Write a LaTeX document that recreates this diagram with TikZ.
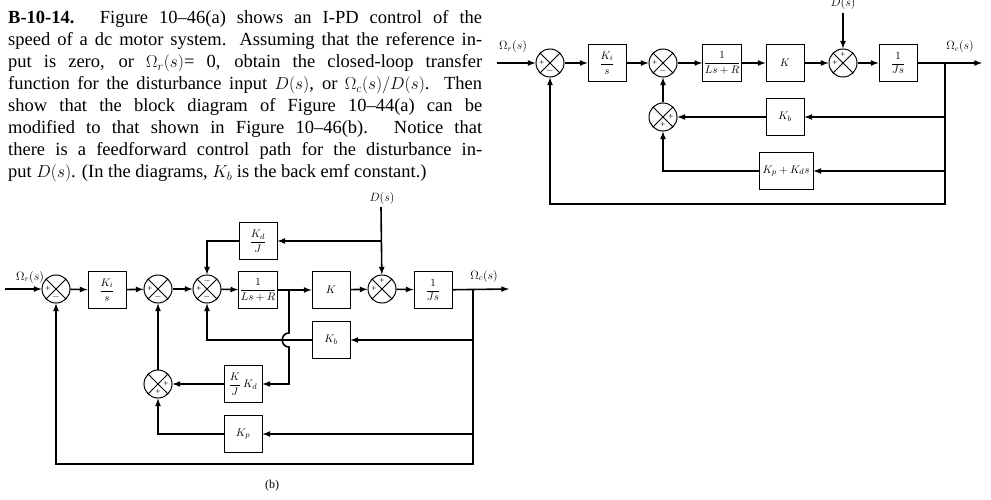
\documentclass[tikz,border=0pt]{standalone}
\usepackage{amsmath}
\usepackage{fontspec}
\setmainfont{Liberation Serif}
\usetikzlibrary{arrows,positioning,calc}

\tikzset{
    blk/.style={rectangle, draw, line width=1pt, minimum width=38pt, minimum height=37pt, inner sep=1pt, font=\fontsize{11}{12}\selectfont},
    summ/.style={circle, draw, line width=1pt, minimum size=28pt, inner sep=0pt,
        path picture={\draw[line width=0.8pt] (path picture bounding box.north west) -- (path picture bounding box.south east)
                      (path picture bounding box.north east) -- (path picture bounding box.south west);}},
    sgn/.style={font=\fontsize{9}{9}\selectfont, inner sep=0pt},
    sig/.style={line width=1.6pt, ->, >=latex},
    lbl/.style={font=\fontsize{12}{13}\selectfont},
    txt/.style={anchor=base west, inner sep=0pt, font=\fontsize{18.5}{22}\selectfont}
}
% sign marks around a summing point
\newcommand{\signs}[5]{%
  \node[sgn] at ($(#1)+(-8,0)$) {#2};
  \node[sgn] at ($(#1)+(0,-8)$) {#3};
  \node[sgn] at ($(#1)+(0,8)$) {#4};
  \node[sgn] at ($(#1)+(8,0)$) {#5};}

\begin{document}
\begin{tikzpicture}[x=1pt, y=-1pt]
\useasboundingbox (0,0) rectangle (991,500);

% problem text
\node[txt] (l1) at (8,24) {\hbox to 474pt{\textbf{B-10-14.} Figure 10--46(a) shows an I-PD control of the}};
\node[txt] (l2) at (8,46) {\hbox to 474pt{speed of a dc motor system. Assuming that the reference in-}};
\node[txt] (l3) at (8,68) {\hbox to 474pt{put is zero, or $\Omega_r(s)$= 0, obtain the closed-loop transfer}};
\node[txt] (l4) at (8,90) {\hbox to 474pt{function for the disturbance input $D(s)$, or $\Omega_c(s)/D(s)$. Then}};
\node[txt] (l5) at (8,112) {\hbox to 474pt{show that the block diagram of Figure 10--44(a) can be}};
\node[txt] (l6) at (8,134) {\hbox to 474pt{modified to that shown in Figure 10--46(b). Notice that}};
\node[txt] (l7) at (8,156) {\hbox to 474pt{there is a feedforward control path for the disturbance in-}};
\node[txt] (l8) at (8,178) {put $D(s)$. (In the diagrams, $K_b$ is the back emf constant.)};

%%% diagram (a)
\coordinate (a-in) at (497,63);
\node[summ] (a-s1) at (550,63) {};
\node[blk] (a-ki) at (607,63) {$\dfrac{K_i}{s}$};
\node[summ] (a-s2) at (663,63) {};
\node[blk] (a-ls) at (722,63) {$\dfrac{1}{Ls+R}$};
\node[blk] (a-k) at (785,63) {$K$};
\node[summ] (a-s3) at (843,63) {};
\node[blk] (a-js) at (898,63) {$\dfrac{1}{Js}$};
\coordinate (a-br) at (945,63);
\coordinate (a-out) at (982,63);
\node[summ] (a-s4) at (663,117) {};
\node[blk] (a-kb) at (785,117) {$K_b$};
\node[blk, minimum width=54pt] (a-kp) at (786,171) {$K_p+K_ds$};
\coordinate (a-d) at (843,13);
\node[lbl] (a-dl) at (843,4) {$D(s)$};
\node[lbl] (a-rl) at (513,47) {$\Omega_r(s)$};
\node[lbl] (a-cl) at (960,47) {$\Omega_c(s)$};

\draw[sig] (a-in) -- (a-s1);
\draw[sig] (a-s1) -- (a-ki);
\draw[sig] (a-ki) -- (a-s2);
\draw[sig] (a-s2) -- (a-ls);
\draw[sig] (a-ls) -- (a-k);
\draw[sig] (a-k) -- (a-s3);
\draw[sig] (a-s3) -- (a-js);
\draw[sig] (a-js) -- (a-out);
\draw[sig] (a-d) -- (a-s3);
\draw[sig] (a-br) |- (a-kb);
\draw[sig] (a-kb) -- (a-s4);
\draw[sig] (a-br) |- (a-kp);
\draw[sig] (a-kp) -| (a-s4);
\draw[sig] (a-s4) -- (a-s2);
\draw[sig] (a-br) |- (550,204) -- (a-s1);
\signs{a-s1}{+}{}{$-$}{}
\signs{a-s2}{+}{}{$-$}{}
\signs{a-s3}{+}{+}{}{}
\signs{a-s4}{}{}{+}{+}

%%% diagram (b)
\coordinate (b-in) at (5,289);
\node[summ] (b-s1) at (56,289) {};
\node[blk] (b-ki) at (107,290) {$\dfrac{K_i}{s}$};
\node[summ] (b-s2) at (158,289) {};
\node[summ] (b-s3) at (207,289) {};
\node[blk] (b-ls) at (258,290) {$\dfrac{1}{Ls+R}$};
\node[blk] (b-k) at (331,290) {$K$};
\node[summ] (b-s4) at (382,289) {};
\node[blk] (b-js) at (433,290) {$\dfrac{1}{Js}$};
\coordinate (b-br) at (473,289);
\coordinate (b-out) at (509,289);
\node[blk] (b-kdj) at (258,241) {$\dfrac{K_d}{J}$};
\node[blk] (b-kb) at (331,340) {$K_b$};
\node[blk] (b-kjkd) at (243,384) {$\dfrac{K}{J}\,K_d$};
\node[summ] (b-s5) at (158,384) {};
\node[blk] (b-kp) at (243,434) {$K_p$};
\coordinate (b-d) at (381,207);
\coordinate (b-db) at (381,241);
\coordinate (b-lb) at (289,290);
\node[lbl] (b-dl) at (382,198) {$D(s)$};
\node[lbl] (b-rl) at (30,277) {$\Omega_r(s)$};
\node[lbl] (b-cl) at (484,276) {$\Omega_c(s)$};
\node[lbl] (b-cap) at (272,486) {(b)};

\draw[sig] (b-in) -- (b-s1);
\draw[sig] (b-s1) -- (b-ki);
\draw[sig] (b-ki) -- (b-s2);
\draw[sig] (b-s2) -- (b-s3);
\draw[sig] (b-s3) -- (b-ls);
\draw[sig] (b-ls) -- (b-k);
\draw[sig] (b-k) -- (b-s4);
\draw[sig] (b-s4) -- (b-js);
\draw[sig] (b-js) -- (b-out);
\draw[sig] (b-d) -- (b-s4);
\draw[sig] (b-db) -- (b-kdj);
\draw[sig] (b-kdj) -| (b-s3);
\draw[sig] (b-br) |- (b-kb);
\draw[sig] (b-kb) -| (b-s3);
\draw[sig] (b-lb) -- (289,333) .. controls (280,333) and (280,347) .. (289,347) |- (b-kjkd);
\draw[sig] (b-kjkd) -- (b-s5);
\draw[sig] (b-br) |- (b-kp);
\draw[sig] (b-kp) -| (b-s5);
\draw[sig] (b-s5) -- (b-s2);
\draw[sig] (b-br) |- (56,464) -- (b-s1);
\signs{b-s1}{+}{}{$-$}{}
\signs{b-s2}{+}{}{$-$}{}
\signs{b-s3}{+}{$-$}{$-$}{}
\signs{b-s4}{+}{+}{}{}
\signs{b-s5}{}{}{+}{+}
\end{tikzpicture}
\end{document}
